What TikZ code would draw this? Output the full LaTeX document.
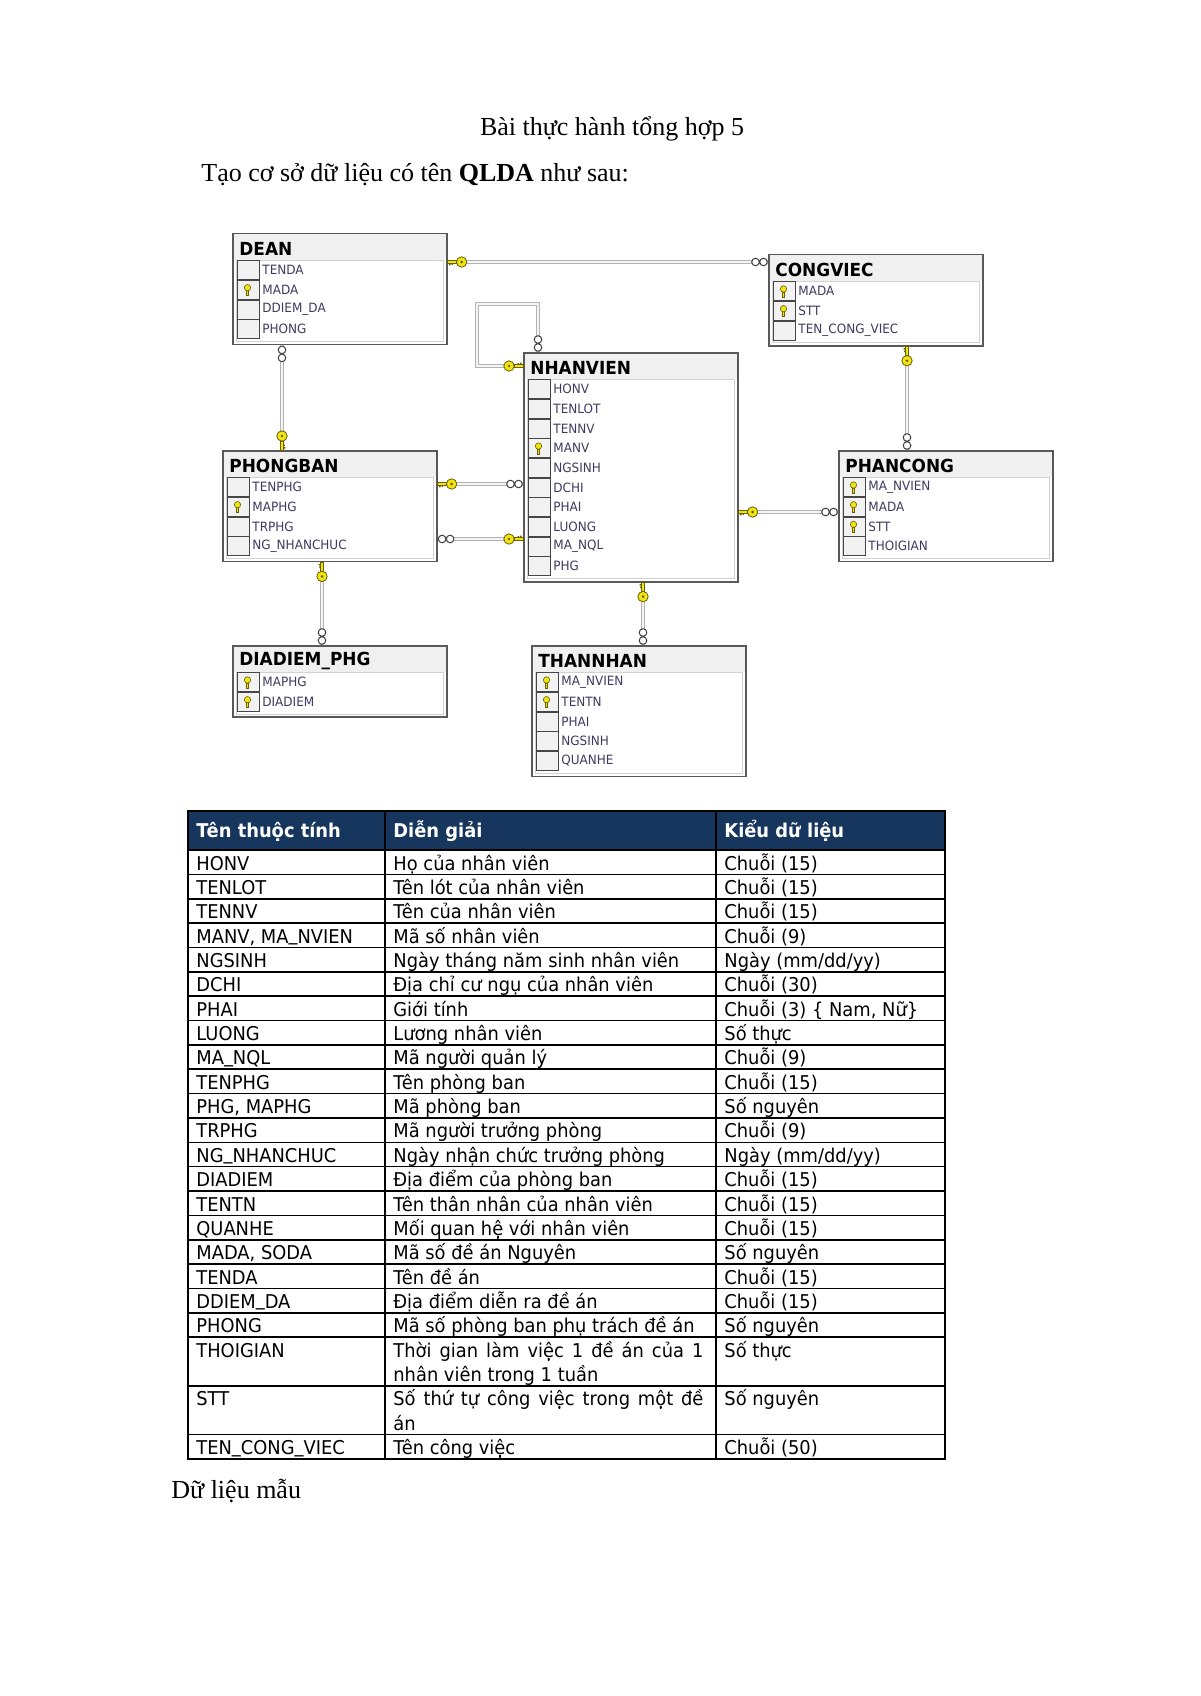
\documentclass[tikz,border=0pt]{standalone}
\usepackage{fontspec}
\setmainfont{Liberation Serif}
\newfontfamily\tabfont[FakeStretch=0.94]{DejaVu Sans}
\usepackage{tikz}
\usetikzlibrary{calc,positioning}
\definecolor{keyyel}{RGB}{240,228,20}
\definecolor{keydark}{RGB}{105,95,0}
\definecolor{colnm}{RGB}{60,60,95}
\definecolor{hdrblue}{RGB}{23,54,93}

\tikzset{
  erbox/.style={draw=gray!70!black, line width=0.8pt, fill=white, rectangle, inner sep=0pt, minimum width=107pt},
  erhead/.style={fill=gray!12},
  erinner/.style={draw=gray!35, line width=0.4pt, fill=white},
  ertitle/.style={font=\tabfont\bfseries\fontsize{9}{10}\selectfont, inner sep=0pt},
  ercol/.style={font=\tabfont\fontsize{6.4}{7}\selectfont, text=colnm, inner sep=0pt},
  keycell/.style={draw=gray!55!black, line width=0.4pt, fill=gray!10},
  rel/.style={draw=gray!60, line width=0.5pt, double=gray!8, double distance=1.4pt},
  tcell/.style={anchor=base west, inner sep=0pt, font=\tabfont\fontsize{9.5}{12}\selectfont},
  thead/.style={tcell, text=white, font=\tabfont\bfseries\fontsize{9.5}{12}\selectfont},
  tline/.style={line width=0.8pt},
  page/.style={inner sep=0pt, font=\fontsize{13}{15}\selectfont},
}

% underscore a little higher in the table cells
\newcommand{\tus}{\raisebox{1.3pt}{\_}}
% small key inside a column cell
\newcommand{\keyicon}[2]{%
  \filldraw[fill=keyyel, draw=keydark, line width=0.3pt] ($(#1.north west)+(14.3,#2+1)$) rectangle ($(#1.north west)+(16.7,#2+6)$);
  \filldraw[fill=keyyel, draw=keydark, line width=0.3pt] ($(#1.north west)+(15.5,#2-2)$) circle (3.2);
}
% one table of the diagram: name, left, top, rows, title, key/column list
\newcommand{\ertable}[6]{%
  \pgfmathsetmacro{\erh}{(32+19.7*#4)/2}
  \node[erbox, minimum height={\erh*1pt}, anchor=north west] (#1) at (#2,#3) {};
  \fill[erhead] ($(#1.north west)+(1.5,1.5)$) rectangle ($(#1.north east)+(-1.5,27)$);
  \draw[erinner] ($(#1.north west)+(4,27)$) rectangle ($(#1.south east)+(-4,-4)$);
  \node[ertitle, anchor=west] (#1-t) at ($(#1.north west)+(7,16)$) {#5};
  \foreach \k/\lbl [count=\i] in {#6} {
    \pgfmathsetmacro{\ry}{37+19.7*(\i-1)}
    \draw[keycell] ($(#1.north west)+(5,\ry-9.5)$) rectangle ($(#1.north west)+(27,\ry+9.5)$);
    \ifnum\k=1 \keyicon{#1}{\ry}\fi
    \node[ercol, anchor=west] (#1-\i) at ($(#1.north west)+(30,\ry)$) {\lbl};
  }
}
% connector ends
\newcommand{\keyend}[2]{%
  \begin{scope}[shift={(#1)}, rotate=#2]
    \filldraw[fill=keyyel, draw=keydark, line width=0.3pt] (0,-1.4) rectangle (9,1.4);
    \fill[keydark] (1.5,1.4) rectangle (3,3.4) (4,1.4) rectangle (5.3,2.8);
    \filldraw[fill=keyyel, draw=keydark, line width=0.4pt] (14,0) circle (5.2);
    \fill[keydark] (14,0) circle (1.4);
  \end{scope}}
\newcommand{\manyend}[2]{%
  \begin{scope}[shift={(#1)}, rotate=#2]
    \filldraw[fill=white, draw=gray!50!black, line width=0.5pt] (4.5,0) circle (3.8) (12.5,0) circle (3.8);
  \end{scope}}
% one row of the attribute table
\newcommand{\trow}[4]{%
  \node[tcell] (a#1) at (196,{850+24.36*(#1-1)+20}) {#2};
  \node[tcell] (b#1) at (393,{850+24.36*(#1-1)+20}) {#3};
  \node[tcell] (c#1) at (724,{850+24.36*(#1-1)+20}) {#4};
}

\begin{document}
\begin{tikzpicture}[x=0.5pt, y=-0.5pt]
  \useasboundingbox (0,0) rectangle (1200,1696);
  \fill[white] (0,0) rectangle (1200,1696);

  \node[page, anchor=base] (title) at (612,136) {Bài thực hành tổng hợp 5};
  \node[page, anchor=base west] (intro) at (201,182) {Tạo cơ sở dữ liệu có tên \textbf{QLDA} như sau:};

  % diagram
  \ertable{dean}{232}{233}{4}{DEAN}{0/TENDA, 1/MADA, 0/DDIEM\_DA, 0/PHONG}
  \ertable{congviec}{768}{254}{3}{CONGVIEC}{1/MADA, 1/STT, 0/TEN\_CONG\_VIEC}
  \ertable{nhanvien}{523}{352}{10}{NHANVIEN}{0/HONV, 0/TENLOT, 0/TENNV, 1/MANV, 0/NGSINH, 0/DCHI, 0/PHAI, 0/LUONG, 0/MA\_NQL, 0/PHG}
  \ertable{phongban}{222}{450}{4}{PHONGBAN}{0/TENPHG, 1/MAPHG, 0/TRPHG, 0/NG\_NHANCHUC}
  \ertable{phancong}{838}{450}{4}{PHANCONG}{1/MA\_NVIEN, 1/MADA, 1/STT, 0/THOIGIAN}
  \ertable{diadiem}{232}{645}{2}{DIADIEM\_PHG}{1/MAPHG, 1/DIADIEM}
  \ertable{thannhan}{531}{645}{5}{THANNHAN}{1/MA\_NVIEN, 1/TENTN, 0/PHAI, 0/NGSINH, 0/QUANHE}

  \coordinate (dean-e) at ($(dean.north east)+(0,29)$);
  \coordinate (cv-w) at (dean-e -| congviec.west);
  \coordinate (dean-s) at ($(dean.south west)+(50,0)$);
  \coordinate (pb-n) at (dean-s |- phongban.north);
  \coordinate (nv-n) at ($(nhanvien.north west)+(15,0)$);
  \coordinate (nv-w1) at ($(nhanvien.north west)+(0,14)$);
  \coordinate (pb-e1) at ($(phongban.north east)+(0,34)$);
  \coordinate (nv-w2) at (pb-e1 -| nhanvien.west);
  \coordinate (pb-e2) at ($(phongban.north east)+(0,89)$);
  \coordinate (nv-w3) at (pb-e2 -| nhanvien.west);
  \coordinate (pb-s) at ($(phongban.south west)+(100,0)$);
  \coordinate (dd-n) at (pb-s |- diadiem.north);
  \coordinate (nv-e) at ($(nhanvien.north east)+(0,160)$);
  \coordinate (pc-w) at (nv-e -| phancong.west);
  \coordinate (cv-s) at ($(congviec.south west)+(139,0)$);
  \coordinate (pc-n) at (cv-s |- phancong.north);
  \coordinate (nv-s) at ($(nhanvien.south west)+(120,0)$);
  \coordinate (tn-n) at (nv-s |- thannhan.north);

  \draw[rel] (dean-e) -- (cv-w);
  \draw[rel] (dean-s) -- (pb-n);
  \draw[rel] (nv-n) -- ++(0,-48) -| ($(nv-w1)+(-46,0)$) -- (nv-w1);
  \draw[rel] (pb-e1) -- (nv-w2);
  \draw[rel] (pb-e2) -- (nv-w3);
  \draw[rel] (pb-s) -- (dd-n);
  \draw[rel] (nv-e) -- (pc-w);
  \draw[rel] (cv-s) -- (pc-n);
  \draw[rel] (nv-s) -- (tn-n);

  \keyend{dean-e}{0}    \manyend{cv-w}{180}
  \manyend{dean-s}{-90} \keyend{pb-n}{90}
  \manyend{nv-n}{90}    \keyend{nv-w1}{180}
  \keyend{pb-e1}{0}     \manyend{nv-w2}{180}
  \manyend{pb-e2}{0}    \keyend{nv-w3}{180}
  \keyend{pb-s}{-90}    \manyend{dd-n}{90}
  \keyend{nv-e}{0}      \manyend{pc-w}{180}
  \keyend{cv-s}{-90}    \manyend{pc-n}{90}
  \keyend{nv-s}{-90}    \manyend{tn-n}{90}

  % attribute table
  \fill[hdrblue] (188,811) rectangle (945,850);
  \foreach \k in {0,...,25} {
    \ifnum\k=21 \else\ifnum\k=23 \else
      \draw[tline] (188,{850+24.36*\k}) -- (945,{850+24.36*\k});
    \fi\fi
  }
  \draw[tline] (188,811) rectangle (945,1459);
  \foreach \xx in {385,716} \draw[tline] (\xx,811) -- (\xx,1459);

  \node[thead] (h1) at (196,837) {Tên thuộc tính};
  \node[thead] (h2) at (393,837) {Diễn giải};
  \node[thead] (h3) at (724,837) {Kiểu dữ liệu};

  \trow{1}{HONV}{Họ của nhân viên}{Chuỗi (15)}
  \trow{2}{TENLOT}{Tên lót của nhân viên}{Chuỗi (15)}
  \trow{3}{TENNV}{Tên của nhân viên}{Chuỗi (15)}
  \trow{4}{MANV, MA\tus NVIEN}{Mã số nhân viên}{Chuỗi (9)}
  \trow{5}{NGSINH}{Ngày tháng năm sinh nhân viên}{Ngày (mm/dd/yy)}
  \trow{6}{DCHI}{Địa chỉ cư ngụ của nhân viên}{Chuỗi (30)}
  \trow{7}{PHAI}{Giới tính}{Chuỗi (3) \{ Nam, Nữ\}}
  \trow{8}{LUONG}{Lương nhân viên}{Số thực}
  \trow{9}{MA\tus NQL}{Mã người quản lý}{Chuỗi (9)}
  \trow{10}{TENPHG}{Tên phòng ban}{Chuỗi (15)}
  \trow{11}{PHG, MAPHG}{Mã phòng ban}{Số nguyên}
  \trow{12}{TRPHG}{Mã người trưởng phòng}{Chuỗi (9)}
  \trow{13}{NG\tus NHANCHUC}{Ngày nhận chức trưởng phòng}{Ngày (mm/dd/yy)}
  \trow{14}{DIADIEM}{Địa điểm của phòng ban}{Chuỗi (15)}
  \trow{15}{TENTN}{Tên thân nhân của nhân viên}{Chuỗi (15)}
  \trow{16}{QUANHE}{Mối quan hệ với nhân viên}{Chuỗi (15)}
  \trow{17}{MADA, SODA}{Mã số đề án Nguyên}{Số nguyên}
  \trow{18}{TENDA}{Tên đề án}{Chuỗi (15)}
  \trow{19}{DDIEM\tus DA}{Địa điểm diễn ra đề án}{Chuỗi (15)}
  \trow{20}{PHONG}{Mã số phòng ban phụ trách đề án}{Số nguyên}
  \trow{21}{THOIGIAN}{\makebox[155pt][s]{Thời gian làm việc 1 đề án của 1}}{Số thực}
  \node[tcell] (b22) at (393,{850+24.36*21+20}) {nhân viên trong 1 tuần};
  \trow{23}{STT}{\makebox[155pt][s]{Số thứ tự công việc trong một đề}}{Số nguyên}
  \node[tcell] (b24) at (393,{850+24.36*23+20}) {án};
  \trow{25}{TEN\tus CONG\tus VIEC}{Tên công việc}{Chuỗi (50)}

  \node[page, anchor=base west] (sample) at (171,1498) {Dữ liệu mẫu};
\end{tikzpicture}
\end{document}
